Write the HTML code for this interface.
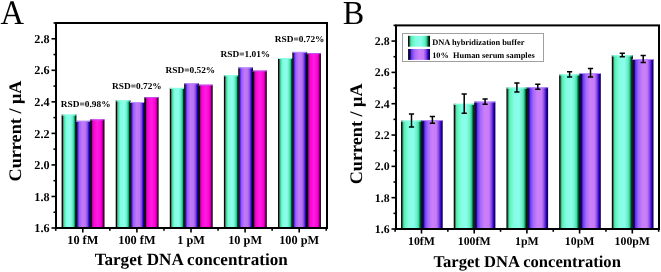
<!DOCTYPE html><html><head><meta charset="utf-8"><style>html,body{margin:0;padding:0;background:#fff;width:661px;height:272px;overflow:hidden}svg{display:block;will-change:transform}text{font-family:"Liberation Serif",serif;text-rendering:geometricPrecision}</style></head><body>
<svg width="661" height="272" viewBox="0 0 661 272">
<defs><linearGradient id="gG" x1="0" x2="1" y1="0" y2="0"><stop offset="0" stop-color="#000"/><stop offset="0.06" stop-color="#02140c"/><stop offset="0.12" stop-color="#2aa878"/><stop offset="0.2" stop-color="#50eab4"/><stop offset="0.32" stop-color="#84fbe4"/><stop offset="0.6" stop-color="#8cfeec"/><stop offset="0.75" stop-color="#5ef0c0"/><stop offset="0.85" stop-color="#34c08e"/><stop offset="0.93" stop-color="#04261a"/><stop offset="1" stop-color="#000"/></linearGradient><linearGradient id="gP" x1="0" x2="1" y1="0" y2="0"><stop offset="0" stop-color="#100828"/><stop offset="0.07" stop-color="#1a0858"/><stop offset="0.14" stop-color="#5a28e8"/><stop offset="0.24" stop-color="#a060f2"/><stop offset="0.45" stop-color="#c47af6"/><stop offset="0.65" stop-color="#b872f4"/><stop offset="0.78" stop-color="#8048f0"/><stop offset="0.87" stop-color="#3010c0"/><stop offset="0.94" stop-color="#0a0040"/><stop offset="1" stop-color="#000"/></linearGradient><linearGradient id="gK" x1="0" x2="1" y1="0" y2="0"><stop offset="0" stop-color="#000"/><stop offset="0.08" stop-color="#1a0012"/><stop offset="0.15" stop-color="#c000a8"/><stop offset="0.24" stop-color="#ff00d4"/><stop offset="0.5" stop-color="#ff1ee2"/><stop offset="0.76" stop-color="#ff00d4"/><stop offset="0.85" stop-color="#b00098"/><stop offset="0.93" stop-color="#140010"/><stop offset="1" stop-color="#000"/></linearGradient><linearGradient id="hG" x1="0" x2="1" y1="0" y2="0"><stop offset="0" stop-color="#001a10"/><stop offset="0.04" stop-color="#03180f"/><stop offset="0.08" stop-color="#1a8a5e"/><stop offset="0.13" stop-color="#4ee8a8"/><stop offset="0.2" stop-color="#64f4c0"/><stop offset="0.35" stop-color="#84fde4"/><stop offset="0.6" stop-color="#8afeea"/><stop offset="0.75" stop-color="#66f2c4"/><stop offset="0.83" stop-color="#44d8a0"/><stop offset="0.9" stop-color="#146a4a"/><stop offset="0.95" stop-color="#03180f"/><stop offset="1" stop-color="#000"/></linearGradient><linearGradient id="hP" x1="0" x2="1" y1="0" y2="0"><stop offset="0" stop-color="#201830"/><stop offset="0.05" stop-color="#10005a"/><stop offset="0.1" stop-color="#1a0090"/><stop offset="0.16" stop-color="#6a38f0"/><stop offset="0.3" stop-color="#a868f6"/><stop offset="0.5" stop-color="#cc80f8"/><stop offset="0.7" stop-color="#c67cf8"/><stop offset="0.8" stop-color="#8a50f2"/><stop offset="0.88" stop-color="#4a18d8"/><stop offset="0.94" stop-color="#180070"/><stop offset="1" stop-color="#05001a"/></linearGradient></defs>
<rect x="0" y="0" width="661" height="272" fill="#fff"/>
<rect x="61.60" y="114.60" width="14.80" height="113.40" fill="url(#gG)"/>
<rect x="61.60" y="114.60" width="14.30" height="1" fill="#8affe4"/>
<rect x="75.90" y="120.80" width="14.80" height="107.20" fill="url(#gP)"/>
<rect x="75.90" y="120.80" width="14.30" height="1" fill="#b890ff"/>
<rect x="90.20" y="119.40" width="14.30" height="108.60" fill="url(#gK)"/>
<rect x="90.20" y="119.40" width="14.30" height="1" fill="#c050f0"/>
<rect x="115.70" y="100.40" width="14.80" height="127.60" fill="url(#gG)"/>
<rect x="115.70" y="100.40" width="14.30" height="1" fill="#8affe4"/>
<rect x="130.00" y="102.00" width="14.80" height="126.00" fill="url(#gP)"/>
<rect x="130.00" y="102.00" width="14.30" height="1" fill="#b890ff"/>
<rect x="144.30" y="97.10" width="14.30" height="130.90" fill="url(#gK)"/>
<rect x="144.30" y="97.10" width="14.30" height="1" fill="#c050f0"/>
<rect x="169.80" y="87.90" width="14.80" height="140.10" fill="url(#gG)"/>
<rect x="169.80" y="87.90" width="14.30" height="1" fill="#8affe4"/>
<rect x="184.10" y="83.20" width="14.80" height="144.80" fill="url(#gP)"/>
<rect x="184.10" y="83.20" width="14.30" height="1" fill="#b890ff"/>
<rect x="198.40" y="84.70" width="14.30" height="143.30" fill="url(#gK)"/>
<rect x="198.40" y="84.70" width="14.30" height="1" fill="#c050f0"/>
<rect x="223.90" y="75.30" width="14.80" height="152.70" fill="url(#gG)"/>
<rect x="223.90" y="75.30" width="14.30" height="1" fill="#8affe4"/>
<rect x="238.20" y="67.40" width="14.80" height="160.60" fill="url(#gP)"/>
<rect x="238.20" y="67.40" width="14.30" height="1" fill="#b890ff"/>
<rect x="252.50" y="70.60" width="14.30" height="157.40" fill="url(#gK)"/>
<rect x="252.50" y="70.60" width="14.30" height="1" fill="#c050f0"/>
<rect x="278.00" y="58.00" width="14.80" height="170.00" fill="url(#gG)"/>
<rect x="278.00" y="58.00" width="14.30" height="1" fill="#8affe4"/>
<rect x="292.30" y="51.90" width="14.80" height="176.10" fill="url(#gP)"/>
<rect x="292.30" y="51.90" width="14.30" height="1" fill="#b890ff"/>
<rect x="306.60" y="53.20" width="14.30" height="174.80" fill="url(#gK)"/>
<rect x="306.60" y="53.20" width="14.30" height="1" fill="#c050f0"/>
<text transform="translate(60.8 106.7) scale(1 0.97)" font-size="9.35" font-weight="bold">RSD=0.98%</text>
<text transform="translate(112.0 88.7) scale(1 0.97)" font-size="9.35" font-weight="bold">RSD=0.72%</text>
<text transform="translate(165.5 73.2) scale(1 0.97)" font-size="9.35" font-weight="bold">RSD=0.52%</text>
<text transform="translate(220.5 57.1) scale(1 0.97)" font-size="9.35" font-weight="bold">RSD=1.01%</text>
<text transform="translate(274.7 42.3) scale(1 0.97)" font-size="9.35" font-weight="bold">RSD=0.72%</text>
<rect x="401.00" y="120.60" width="21.10" height="108.40" fill="url(#hG)"/>
<rect x="401.00" y="120.60" width="20.60" height="1" fill="#8affe4"/>
<rect x="421.50" y="120.10" width="21.20" height="108.90" fill="url(#hP)"/>
<rect x="421.50" y="120.10" width="21.20" height="1" fill="#b890ff"/>
<path d="M411.50 114.00V126.90M408.90 114.00H414.10M408.90 126.90H414.10" stroke="#000" stroke-width="1.5" fill="none"/>
<path d="M432.40 116.50V123.20M429.80 116.50H435.00M429.80 123.20H435.00" stroke="#000" stroke-width="1.5" fill="none"/>
<rect x="453.70" y="103.80" width="21.10" height="125.20" fill="url(#hG)"/>
<rect x="453.70" y="103.80" width="20.60" height="1" fill="#8affe4"/>
<rect x="474.20" y="101.60" width="21.20" height="127.40" fill="url(#hP)"/>
<rect x="474.20" y="101.60" width="21.20" height="1" fill="#b890ff"/>
<path d="M464.20 93.90V113.20M461.60 93.90H466.80M461.60 113.20H466.80" stroke="#000" stroke-width="1.5" fill="none"/>
<path d="M485.10 99.00V104.20M482.50 99.00H487.70M482.50 104.20H487.70" stroke="#000" stroke-width="1.5" fill="none"/>
<rect x="506.40" y="87.60" width="21.10" height="141.40" fill="url(#hG)"/>
<rect x="506.40" y="87.60" width="20.60" height="1" fill="#8affe4"/>
<rect x="526.90" y="87.20" width="21.20" height="141.80" fill="url(#hP)"/>
<rect x="526.90" y="87.20" width="21.20" height="1" fill="#b890ff"/>
<path d="M516.90 82.90V91.90M514.30 82.90H519.50M514.30 91.90H519.50" stroke="#000" stroke-width="1.5" fill="none"/>
<path d="M537.80 84.20V89.30M535.20 84.20H540.40M535.20 89.30H540.40" stroke="#000" stroke-width="1.5" fill="none"/>
<rect x="559.10" y="74.50" width="21.10" height="154.50" fill="url(#hG)"/>
<rect x="559.10" y="74.50" width="20.60" height="1" fill="#8affe4"/>
<rect x="579.60" y="73.00" width="21.20" height="156.00" fill="url(#hP)"/>
<rect x="579.60" y="73.00" width="21.20" height="1" fill="#b890ff"/>
<path d="M569.60 71.70V77.10M567.00 71.70H572.20M567.00 77.10H572.20" stroke="#000" stroke-width="1.5" fill="none"/>
<path d="M590.50 68.50V76.90M587.90 68.50H593.10M587.90 76.90H593.10" stroke="#000" stroke-width="1.5" fill="none"/>
<rect x="611.80" y="55.40" width="21.10" height="173.60" fill="url(#hG)"/>
<rect x="611.80" y="55.40" width="20.60" height="1" fill="#8affe4"/>
<rect x="632.30" y="59.00" width="21.20" height="170.00" fill="url(#hP)"/>
<rect x="632.30" y="59.00" width="21.20" height="1" fill="#b890ff"/>
<path d="M622.30 53.20V56.70M619.70 53.20H624.90M619.70 56.70H624.90" stroke="#000" stroke-width="1.5" fill="none"/>
<path d="M643.20 55.40V62.50M640.60 55.40H645.80M640.60 62.50H645.80" stroke="#000" stroke-width="1.5" fill="none"/>
<rect x="56" y="23" width="271" height="205" fill="none" stroke="#000" stroke-width="2"/>
<line x1="51.5" y1="228.00" x2="56" y2="228.00" stroke="#000" stroke-width="1.6"/>
<line x1="53.5" y1="212.23" x2="56" y2="212.23" stroke="#000" stroke-width="1.6"/>
<line x1="51.5" y1="196.46" x2="56" y2="196.46" stroke="#000" stroke-width="1.6"/>
<line x1="53.5" y1="180.69" x2="56" y2="180.69" stroke="#000" stroke-width="1.6"/>
<line x1="51.5" y1="164.92" x2="56" y2="164.92" stroke="#000" stroke-width="1.6"/>
<line x1="53.5" y1="149.15" x2="56" y2="149.15" stroke="#000" stroke-width="1.6"/>
<line x1="51.5" y1="133.38" x2="56" y2="133.38" stroke="#000" stroke-width="1.6"/>
<line x1="53.5" y1="117.62" x2="56" y2="117.62" stroke="#000" stroke-width="1.6"/>
<line x1="51.5" y1="101.85" x2="56" y2="101.85" stroke="#000" stroke-width="1.6"/>
<line x1="53.5" y1="86.08" x2="56" y2="86.08" stroke="#000" stroke-width="1.6"/>
<line x1="51.5" y1="70.31" x2="56" y2="70.31" stroke="#000" stroke-width="1.6"/>
<line x1="53.5" y1="54.54" x2="56" y2="54.54" stroke="#000" stroke-width="1.6"/>
<line x1="51.5" y1="38.77" x2="56" y2="38.77" stroke="#000" stroke-width="1.6"/>
<line x1="53.5" y1="23.00" x2="56" y2="23.00" stroke="#000" stroke-width="1.6"/>
<line x1="82.80" y1="228" x2="82.80" y2="232.5" stroke="#000" stroke-width="1.6"/>
<line x1="136.90" y1="228" x2="136.90" y2="232.5" stroke="#000" stroke-width="1.6"/>
<line x1="191.00" y1="228" x2="191.00" y2="232.5" stroke="#000" stroke-width="1.6"/>
<line x1="245.10" y1="228" x2="245.10" y2="232.5" stroke="#000" stroke-width="1.6"/>
<line x1="299.20" y1="228" x2="299.20" y2="232.5" stroke="#000" stroke-width="1.6"/>
<line x1="55.75" y1="228" x2="55.75" y2="230.8" stroke="#000" stroke-width="1.6"/>
<line x1="109.85" y1="228" x2="109.85" y2="230.8" stroke="#000" stroke-width="1.6"/>
<line x1="163.95" y1="228" x2="163.95" y2="230.8" stroke="#000" stroke-width="1.6"/>
<line x1="218.05" y1="228" x2="218.05" y2="230.8" stroke="#000" stroke-width="1.6"/>
<line x1="272.15" y1="228" x2="272.15" y2="230.8" stroke="#000" stroke-width="1.6"/>
<line x1="326.25" y1="228" x2="326.25" y2="230.8" stroke="#000" stroke-width="1.6"/>
<text x="49.6" y="232.15" font-size="12.2" font-weight="bold" text-anchor="end">1.6</text>
<text x="49.6" y="200.61" font-size="12.2" font-weight="bold" text-anchor="end">1.8</text>
<text x="49.6" y="169.07" font-size="12.2" font-weight="bold" text-anchor="end">2.0</text>
<text x="49.6" y="137.53" font-size="12.2" font-weight="bold" text-anchor="end">2.2</text>
<text x="49.6" y="105.99" font-size="12.2" font-weight="bold" text-anchor="end">2.4</text>
<text x="49.6" y="74.46" font-size="12.2" font-weight="bold" text-anchor="end">2.6</text>
<text x="49.6" y="42.92" font-size="12.2" font-weight="bold" text-anchor="end">2.8</text>
<text x="82.80" y="244.2" font-size="12.3" font-weight="bold" text-anchor="middle">10 fM</text>
<text x="136.90" y="244.2" font-size="12.3" font-weight="bold" text-anchor="middle">100 fM</text>
<text x="191.00" y="244.2" font-size="12.3" font-weight="bold" text-anchor="middle">1 pM</text>
<text x="245.10" y="244.2" font-size="12.3" font-weight="bold" text-anchor="middle">10 pM</text>
<text x="299.20" y="244.2" font-size="12.3" font-weight="bold" text-anchor="middle">100 pM</text>
<rect x="396" y="25.4" width="263" height="203.6" fill="none" stroke="#000" stroke-width="2"/>
<line x1="391.5" y1="229.00" x2="396" y2="229.00" stroke="#000" stroke-width="1.6"/>
<line x1="393.5" y1="213.34" x2="396" y2="213.34" stroke="#000" stroke-width="1.6"/>
<line x1="391.5" y1="197.68" x2="396" y2="197.68" stroke="#000" stroke-width="1.6"/>
<line x1="393.5" y1="182.02" x2="396" y2="182.02" stroke="#000" stroke-width="1.6"/>
<line x1="391.5" y1="166.35" x2="396" y2="166.35" stroke="#000" stroke-width="1.6"/>
<line x1="393.5" y1="150.69" x2="396" y2="150.69" stroke="#000" stroke-width="1.6"/>
<line x1="391.5" y1="135.03" x2="396" y2="135.03" stroke="#000" stroke-width="1.6"/>
<line x1="393.5" y1="119.37" x2="396" y2="119.37" stroke="#000" stroke-width="1.6"/>
<line x1="391.5" y1="103.71" x2="396" y2="103.71" stroke="#000" stroke-width="1.6"/>
<line x1="393.5" y1="88.05" x2="396" y2="88.05" stroke="#000" stroke-width="1.6"/>
<line x1="391.5" y1="72.38" x2="396" y2="72.38" stroke="#000" stroke-width="1.6"/>
<line x1="393.5" y1="56.72" x2="396" y2="56.72" stroke="#000" stroke-width="1.6"/>
<line x1="391.5" y1="41.06" x2="396" y2="41.06" stroke="#000" stroke-width="1.6"/>
<line x1="393.5" y1="25.40" x2="396" y2="25.40" stroke="#000" stroke-width="1.6"/>
<line x1="421.50" y1="229" x2="421.50" y2="233.5" stroke="#000" stroke-width="1.6"/>
<line x1="474.20" y1="229" x2="474.20" y2="233.5" stroke="#000" stroke-width="1.6"/>
<line x1="526.90" y1="229" x2="526.90" y2="233.5" stroke="#000" stroke-width="1.6"/>
<line x1="579.60" y1="229" x2="579.60" y2="233.5" stroke="#000" stroke-width="1.6"/>
<line x1="632.30" y1="229" x2="632.30" y2="233.5" stroke="#000" stroke-width="1.6"/>
<line x1="395.15" y1="229" x2="395.15" y2="231.8" stroke="#000" stroke-width="1.6"/>
<line x1="447.85" y1="229" x2="447.85" y2="231.8" stroke="#000" stroke-width="1.6"/>
<line x1="500.55" y1="229" x2="500.55" y2="231.8" stroke="#000" stroke-width="1.6"/>
<line x1="553.25" y1="229" x2="553.25" y2="231.8" stroke="#000" stroke-width="1.6"/>
<line x1="605.95" y1="229" x2="605.95" y2="231.8" stroke="#000" stroke-width="1.6"/>
<line x1="658.65" y1="229" x2="658.65" y2="231.8" stroke="#000" stroke-width="1.6"/>
<text x="389.6" y="233.01" font-size="11.8" font-weight="bold" text-anchor="end">1.6</text>
<text x="389.6" y="201.69" font-size="11.8" font-weight="bold" text-anchor="end">1.8</text>
<text x="389.6" y="170.37" font-size="11.8" font-weight="bold" text-anchor="end">2.0</text>
<text x="389.6" y="139.04" font-size="11.8" font-weight="bold" text-anchor="end">2.2</text>
<text x="389.6" y="107.72" font-size="11.8" font-weight="bold" text-anchor="end">2.4</text>
<text x="389.6" y="76.40" font-size="11.8" font-weight="bold" text-anchor="end">2.6</text>
<text x="389.6" y="45.07" font-size="11.8" font-weight="bold" text-anchor="end">2.8</text>
<text x="421.50" y="245.4" font-size="11.8" font-weight="bold" text-anchor="middle">10fM</text>
<text x="474.20" y="245.4" font-size="11.8" font-weight="bold" text-anchor="middle">100fM</text>
<text x="526.90" y="245.4" font-size="11.8" font-weight="bold" text-anchor="middle">1pM</text>
<text x="579.60" y="245.4" font-size="11.8" font-weight="bold" text-anchor="middle">10pM</text>
<text x="632.30" y="245.4" font-size="11.8" font-weight="bold" text-anchor="middle">100pM</text>
<text x="191.2" y="264.8" font-size="17.1" font-weight="bold" text-anchor="middle">Target DNA concentration</text>
<text x="527.2" y="266.9" font-size="16.6" font-weight="bold" text-anchor="middle">Target DNA concentration</text>
<text transform="translate(21.4 131) rotate(-90) scale(1 0.97)" font-size="18.2" font-weight="bold" text-anchor="middle">Current / μA</text>
<text transform="translate(362.1 133.9) rotate(-90) scale(1 0.97)" font-size="18.2" font-weight="bold" text-anchor="middle">Current / μA</text>
<text transform="translate(0.6 23.6) scale(1 1.06)" font-size="32.5">A</text>
<text transform="translate(342.7 24.2) scale(1 1.04)" font-size="32.2">B</text>
<rect x="402.5" y="33.5" width="141" height="28" fill="#fff" stroke="#a0a0a0" stroke-width="1"/>
<rect x="408" y="35.8" width="22" height="10.9" fill="url(#hG)"/>
<rect x="408" y="49" width="22" height="10.9" fill="url(#hP)"/>
<text x="432.2" y="44.8" font-size="8.35" font-weight="bold" xml:space="preserve">DNA hybridization buffer</text>
<text x="432.2" y="58.2" font-size="8.35" font-weight="bold" xml:space="preserve">10%  Human serum samples</text>
</svg></body></html>
